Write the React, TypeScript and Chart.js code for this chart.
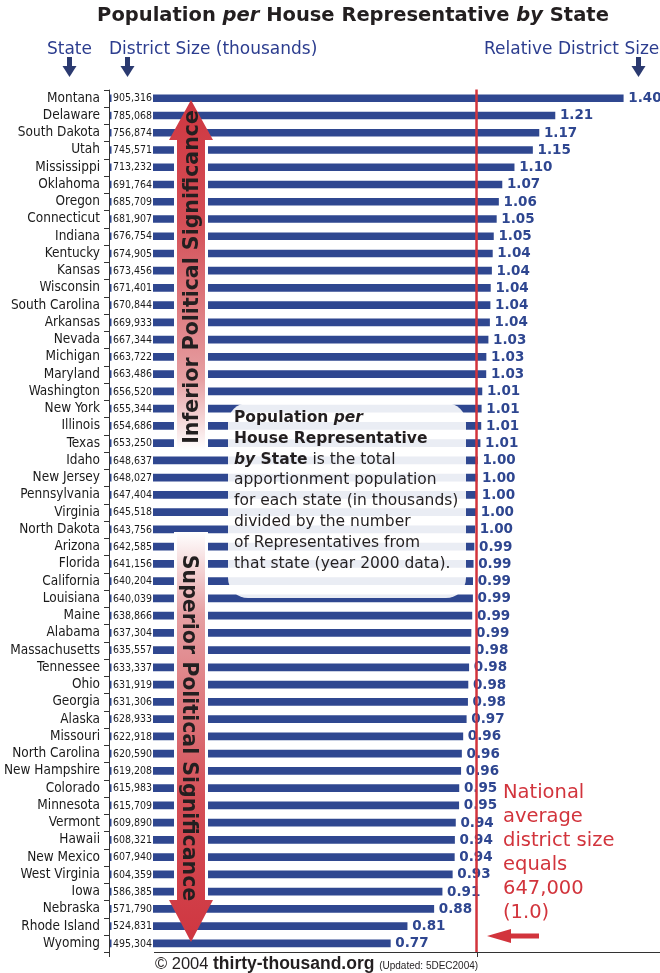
import React, { useEffect, useRef } from "react";
import { Chart, registerables } from "chart.js";

Chart.register(...registerables);

const states = [
  "Montana", "Delaware", "South Dakota", "Utah", "Mississippi", "Oklahoma", "Oregon",
  "Connecticut", "Indiana", "Kentucky", "Kansas", "Wisconsin", "South Carolina", "Arkansas",
  "Nevada", "Michigan", "Maryland", "Washington", "New York", "Illinois", "Texas", "Idaho",
  "New Jersey", "Pennsylvania", "Virginia", "North Dakota", "Arizona", "Florida", "California",
  "Louisiana", "Maine", "Alabama", "Massachusetts", "Tennessee", "Ohio", "Georgia", "Alaska",
  "Missouri", "North Carolina", "New Hampshire", "Colorado", "Minnesota", "Vermont", "Hawaii",
  "New Mexico", "West Virginia", "Iowa", "Nebraska", "Rhode Island", "Wyoming",
];

const districtSize = [
  905316, 785068, 756874, 745571, 713232, 691764, 685709,
  681907, 676754, 674905, 673456, 671401, 670844, 669933,
  667344, 663722, 663486, 656520, 655344, 654686, 653250, 648637,
  648027, 647404, 645518, 643756, 642585, 641156, 640204,
  640039, 638866, 637304, 635557, 633337, 631919, 631306, 628933,
  622918, 620590, 619208, 615983, 615709, 609890, 608321,
  607940, 604359, 586385, 571790, 524831, 495304,
];

const relativeSize = [
  "1.40", "1.21", "1.17", "1.15", "1.10", "1.07", "1.06",
  "1.05", "1.05", "1.04", "1.04", "1.04", "1.04", "1.04",
  "1.03", "1.03", "1.03", "1.01", "1.01", "1.01", "1.01", "1.00",
  "1.00", "1.00", "1.00", "1.00", "0.99", "0.99", "0.99",
  "0.99", "0.99", "0.99", "0.98", "0.98", "0.98", "0.98", "0.97",
  "0.96", "0.96", "0.96", "0.95", "0.95", "0.94", "0.94",
  "0.94", "0.93", "0.91", "0.88", "0.81", "0.77",
];

const nationalAverage = 647000;
const xMax = 970000;

const headerLabels = ["State", "District Size (thousands)", "Relative District Size"];
const upperArrowText = "Inferior Political Significance";
const lowerArrowText = "Superior Political Significance";
const noteLines = ["National", "average", "district size", "equals", "647,000", "(1.0)"];

const BAR = "#2f4790";
const RED = "#d2343c";
const NAVY = "#2c3d8f";
const DARK = "#231f20";

const B = "bold";
const BI = "italic bold";
const N = "normal";

function drawRuns(ctx: CanvasRenderingContext2D, runs: [string, string][], x: number, y: number, size: number, family: string, color: string) {
  let cx = x;
  ctx.fillStyle = color;
  ctx.textAlign = "left";
  ctx.textBaseline = "alphabetic";
  for (const [t, w] of runs) {
    ctx.font = `${w} ${size}px ${family}`;
    ctx.fillText(t, cx, y);
    cx += ctx.measureText(t).width;
  }
  return cx - x;
}

function measureRuns(ctx: CanvasRenderingContext2D, runs: [string, string][], size: number, family: string) {
  let w = 0;
  for (const [t, f] of runs) {
    ctx.font = `${f} ${size}px ${family}`;
    w += ctx.measureText(t).width;
  }
  return w;
}

function downArrow(ctx: CanvasRenderingContext2D, cx: number, top: number) {
  ctx.fillStyle = "#2b3a70";
  ctx.fillRect(cx - 2.5, top, 5, 10);
  ctx.beginPath();
  ctx.moveTo(cx - 7, top + 9);
  ctx.lineTo(cx + 7, top + 9);
  ctx.lineTo(cx, top + 20);
  ctx.closePath();
  ctx.fill();
}

const overlay = {
  id: "overlay",
  afterDatasetsDraw(chart: any) {
    const ctx: CanvasRenderingContext2D = chart.ctx;
    const xs = chart.scales.x;
    const ys = chart.scales.y;
    const area = chart.chartArea;
    const x0 = xs.getPixelForValue(0);
    ctx.save();

    // Title
    const titleRuns: [string, string][] = [
      ["Population ", B], ["per", BI], [" House Representative ", B], ["by", BI], [" State", B],
    ];
    const tw = measureRuns(ctx, titleRuns, 19.5, "'DejaVu Sans'");
    drawRuns(ctx, titleRuns, 353 - tw / 2, 21, 19.5, "'DejaVu Sans'", DARK);

    // Headers
    ctx.font = "17px 'DejaVu Sans'";
    ctx.fillStyle = NAVY;
    ctx.textBaseline = "alphabetic";
    ctx.textAlign = "left";
    ctx.fillText(headerLabels[0], 47, 54);
    ctx.fillText(headerLabels[1], 109, 54);
    ctx.fillText(headerLabels[2], 484, 54);
    downArrow(ctx, 69.5, 57);
    downArrow(ctx, 127.5, 57);
    downArrow(ctx, 638.5, 57);

    // Y axis line and ticks
    ctx.strokeStyle = "#333";
    ctx.lineWidth = 1;
    ctx.beginPath();
    ctx.moveTo(Math.round(x0) + 0.5, area.top);
    ctx.lineTo(Math.round(x0) + 0.5, area.bottom + 5);
    const step = (area.bottom - area.top) / states.length;
    for (let i = 0; i <= states.length; i++) {
      const yy = Math.round(area.top + i * step) + 0.5;
      ctx.moveTo(x0 - 5, yy);
      ctx.lineTo(x0, yy);
    }
    ctx.stroke();

    // Bottom axis
    const avgX = xs.getPixelForValue(nationalAverage);
    ctx.beginPath();
    ctx.moveTo(154, Math.round(area.bottom) + 0.5);
    ctx.lineTo(area.right, Math.round(area.bottom) + 0.5);
    ctx.moveTo(Math.round(avgX) + 0.5, area.bottom);
    ctx.lineTo(Math.round(avgX) + 0.5, area.bottom + 5);
    ctx.stroke();

    // Row labels
    states.forEach((s, i) => {
      const y = ys.getPixelForValue(i);
      ctx.fillStyle = "#1a1a1a";
      ctx.font = "13.5px 'DejaVu Sans Condensed'";
      ctx.textAlign = "right";
      ctx.textBaseline = "middle";
      ctx.fillText(s, 100, y);

      ctx.fillStyle = "#fff";
      ctx.fillRect(x0 + 2.5, y - 6, 153 - x0 - 2.5, 12);
      ctx.fillStyle = "#1a1a1a";
      ctx.font = "10.5px 'DejaVu Sans Condensed'";
      ctx.textAlign = "left";
      ctx.fillText(districtSize[i].toLocaleString("en-US"), 113, y + 0.5);

      const xe = xs.getPixelForValue(districtSize[i]);
      ctx.fillStyle = "#2e4690";
      ctx.font = "bold 13.5px 'DejaVu Sans'";
      ctx.fillText(relativeSize[i], xe + 5, y + 0.5);
    });

    // Red average line
    ctx.strokeStyle = RED;
    ctx.lineWidth = 2.5;
    ctx.beginPath();
    ctx.moveTo(avgX, area.top);
    ctx.lineTo(avgX, area.bottom);
    ctx.stroke();

    // Big arrows
    const cx = 191;
    ctx.fillStyle = "#fff";
    ctx.fillRect(174, 138, 34, 312);
    let g = ctx.createLinearGradient(0, 100, 0, 450);
    g.addColorStop(0, "#cf3640");
    g.addColorStop(0.35, "#d44f57");
    g.addColorStop(0.8, "#e6a0a3");
    g.addColorStop(1, "#ffffff");
    ctx.fillStyle = g;
    ctx.beginPath();
    ctx.moveTo(cx, 100);
    ctx.lineTo(cx + 22, 140);
    ctx.lineTo(cx + 14, 140);
    ctx.lineTo(cx + 14, 450);
    ctx.lineTo(cx - 14, 450);
    ctx.lineTo(cx - 14, 140);
    ctx.lineTo(cx - 22, 140);
    ctx.closePath();
    ctx.fill();
    ctx.fillStyle = "#fff";
    ctx.fillRect(174, 532, 34, 370);
    g = ctx.createLinearGradient(0, 532, 0, 942);
    g.addColorStop(0, "#ffffff");
    g.addColorStop(0.2, "#e6a0a3");
    g.addColorStop(0.65, "#d44f57");
    g.addColorStop(1, "#cf3640");
    ctx.fillStyle = g;
    ctx.beginPath();
    ctx.moveTo(cx - 14, 532);
    ctx.lineTo(cx + 14, 532);
    ctx.lineTo(cx + 14, 900);
    ctx.lineTo(cx + 22, 900);
    ctx.lineTo(cx, 942);
    ctx.lineTo(cx - 22, 900);
    ctx.lineTo(cx - 14, 900);
    ctx.closePath();
    ctx.fill();

    ctx.fillStyle = DARK;
    ctx.font = "bold 20.5px 'DejaVu Sans'";
    ctx.textAlign = "center";
    ctx.textBaseline = "alphabetic";
    ctx.save();
    ctx.translate(197.5, 277);
    ctx.rotate(-Math.PI / 2);
    ctx.fillText(upperArrowText, 0, 0);
    ctx.restore();
    ctx.save();
    ctx.translate(182.5, 728);
    ctx.rotate(Math.PI / 2);
    ctx.fillText(lowerArrowText, 0, 0);
    ctx.restore();

    // Text box
    ctx.fillStyle = "rgba(255,255,255,0.9)";
    ctx.beginPath();
    (ctx as any).roundRect(228, 403, 238, 195, 20);
    ctx.fill();
    const fam = "'DejaVu Sans'";
    const fs = 15.5;
    const lines: [string, string][][] = [
      [["Population ", B], ["per", BI]],
      [["House Representative", B]],
      [["by", BI], [" State", B], [" is the total", N]],
      [["apportionment population", N]],
      [["for each state (in thousands)", N]],
      [["divided by the number", N]],
      [["of Representatives from", N]],
      [["that state (year 2000 data).", N]],
    ];
    lines.forEach((ln, k) => drawRuns(ctx, ln, 234, 422 + k * 20.8, fs, fam, DARK));

    // Note
    ctx.fillStyle = RED;
    ctx.font = "19.5px 'DejaVu Sans'";
    ctx.textAlign = "left";
    ctx.textBaseline = "middle";
    noteLines.forEach((t, k) => ctx.fillText(t, 503, 793 + k * 24));
    ctx.beginPath();
    ctx.moveTo(487, 936);
    ctx.lineTo(511, 929);
    ctx.lineTo(511, 933.5);
    ctx.lineTo(539, 933.5);
    ctx.lineTo(539, 938.5);
    ctx.lineTo(511, 938.5);
    ctx.lineTo(511, 943);
    ctx.closePath();
    ctx.fill();

    // Footer
    let fx = 155;
    fx += drawRuns(ctx, [["\u00a9 2004 ", N]], fx, 969, 16.5, "'Liberation Sans'", DARK);
    fx += drawRuns(ctx, [["thirty-thousand.org", B]], fx, 969, 17.5, "'Liberation Sans'", DARK);
    drawRuns(ctx, [[" (Updated: 5DEC2004)", N]], fx + 2, 969, 10, "'Liberation Sans'", DARK);

    ctx.restore();
  },
};

export default function App() {
  const ref = useRef<HTMLCanvasElement | null>(null);
  useEffect(() => {
    if (!ref.current) return;
    const chart = new Chart(ref.current, {
      type: "bar",
      data: {
        labels: states,
        datasets: [
          {
            data: districtSize,
            backgroundColor: BAR,
            barThickness: 7,
          },
        ],
      },
      options: {
        indexAxis: "y",
        responsive: false,
        animation: false,
        devicePixelRatio: 1,
        layout: { padding: { left: 109, right: 0, top: 89.6, bottom: 21 } },
        plugins: { legend: { display: false }, tooltip: { enabled: false } },
        scales: {
          x: { type: "linear", min: 0, max: xMax, display: false },
          y: { type: "category", display: false },
        },
      },
      plugins: [overlay],
    });
    return () => chart.destroy();
  }, []);
  return (
    <div style={{ position: "absolute", left: 0, top: 0, width: 660, height: 973, background: "#fff" }}>
      <canvas ref={ref} width={660} height={973} style={{ display: "block" }} />
    </div>
  );
}
